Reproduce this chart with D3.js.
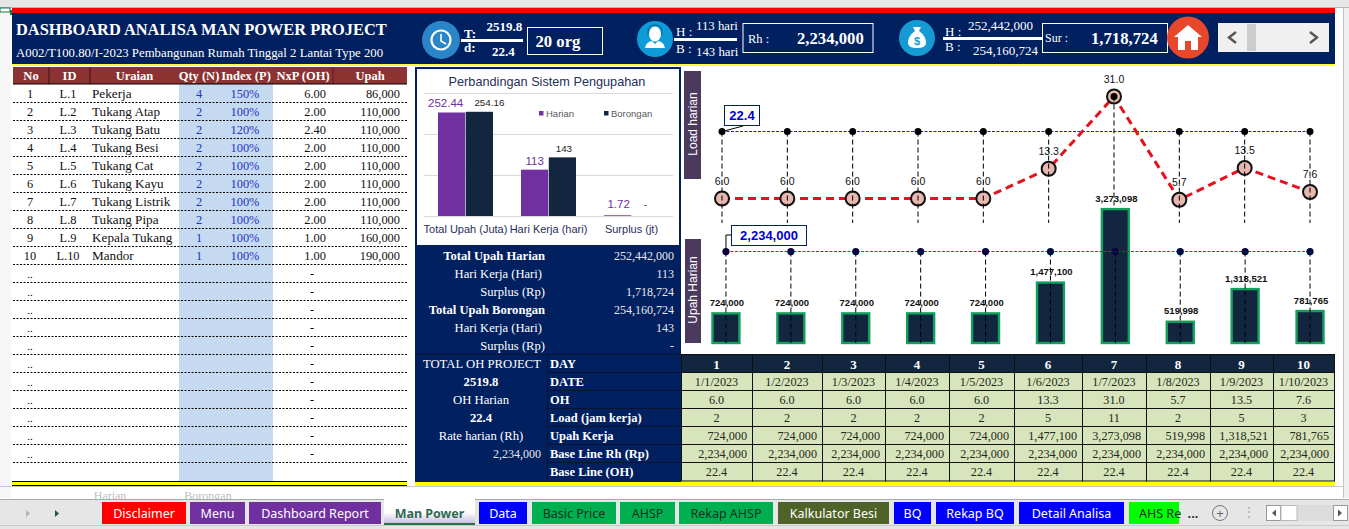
<!DOCTYPE html>
<html>
<head>
<meta charset="utf-8">
<script src="https://cdn.jsdelivr.net/npm/d3@7"></script>
<style>
  html, body { margin: 0; padding: 0; background: #fff; overflow: hidden; }
  svg { display: block; }
</style>
</head>
<body>
<svg id="sheet" width="1349" height="529"></svg>
<script>
const width = 1349, height = 529;

// left table
const tableHead = ["No", "ID", "Uraian", "Qty (N)", "Index (P)", "NxP (OH)", "Upah"];
const workers = ["Pekerja", "Tukang Atap", "Tukang Batu", "Tukang Besi", "Tukang Cat", "Tukang Kayu", "Tukang Listrik", "Tukang Pipa", "Kepala Tukang", "Mandor"];
const workerQty = [4, 2, 2, 2, 2, 2, 2, 2, 1, 1];
const workerIndex = ["150%", "100%", "120%", "100%", "100%", "100%", "100%", "100%", "100%", "100%"];
const workerOH = ["6.00", "2.00", "2.40", "2.00", "2.00", "2.00", "2.00", "2.00", "1.00", "1.00"];
const workerPay = ["86,000", "110,000", "110,000", "110,000", "110,000", "110,000", "110,000", "110,000", "160,000", "190,000"];

// comparison chart
const compareCats = ["Total Upah (Juta)", "Hari Kerja (hari)", "Surplus (jt)"];
const compareSeries = ["Harian", "Borongan"];
const harianValues = [252.44, 113, 1.72];
const boronganValues = [254.16, 143, 0];
const harianLabels = ["252.44", "113", "1.72"];
const boronganLabels = ["254.16", "143", "-"];

// daily data
const days = [1, 2, 3, 4, 5, 6, 7, 8, 9, 10];
const dates = ["1/1/2023", "1/2/2023", "1/3/2023", "1/4/2023", "1/5/2023", "1/6/2023", "1/7/2023", "1/8/2023", "1/9/2023", "1/10/2023"];
const ohValues = [6.0, 6.0, 6.0, 6.0, 6.0, 13.3, 31.0, 5.7, 13.5, 7.6];
const loadValues = [2, 2, 2, 2, 2, 5, 11, 2, 5, 3];
const upahValues = [724000, 724000, 724000, 724000, 724000, 1477100, 3273098, 519998, 1318521, 781765];
const baseRh = 2234000;
const baseOH = 22.4;

// summary panels
const summaryLabels = ["Total Upah Harian", "Hari Kerja (Hari)", "Surplus (Rp)", "Total Upah Borongan", "Hari Kerja (Hari)", "Surplus (Rp)"];
const summaryValues = ["252,442,000", "113", "1,718,724", "254,160,724", "143", "-"];
const totalLabels = ["TOTAL OH PROJECT", "2519.8", "OH Harian", "22.4", "Rate harian (Rh)", "2,234,000"];
const rowLabels = ["DAY", "DATE", "OH", "Load (jam kerja)", "Upah Kerja", "Base Line Rh (Rp)", "Base Line (OH)"];

// sheet tabs
const tabNames = ["Disclaimer", "Menu", "Dashboard Report", "Man Power", "Data", "Basic Price", "AHSP", "Rekap AHSP", "Kalkulator Besi", "BQ", "Rekap BQ", "Detail Analisa", "AHS Re"];
const tabEdges = [[102, 186], [190, 245], [249, 381], [384, 475], [479, 527], [532, 616], [620, 675], [679, 773], [778, 889], [894, 931], [936, 1014], [1019, 1124], [1129, 1179]];
const tabFill = ["#ff0000", "#7030a0", "#7030a0", "#ffffff", "#0000ff", "#00b050", "#00b050", "#00b050", "#4f6228", "#0000ff", "#0000ff", "#0000ff", "#00ff00"];
const tabInk = ["#fff", "#fff", "#fff", "#2f6b4f", "#fff", "#12301f", "#12301f", "#12301f", "#fff", "#fff", "#fff", "#fff", "#12301f"];

const SERIF = "'Liberation Serif', serif";
const SANS = "'Liberation Sans', Arial, sans-serif";
const NAVY = "#002060", DARK = "#12263f";

const svg = d3.select("#sheet");

function txt(g, x, y, s, o) {
  o = o || {};
  return g.append("text")
    .attr("x", x).attr("y", y)
    .attr("dominant-baseline", "central")
    .attr("text-anchor", o.anchor || "start")
    .attr("font-family", o.font || SERIF)
    .attr("font-size", o.size || 12)
    .attr("font-weight", o.bold ? "bold" : "normal")
    .attr("fill", o.fill || "#000")
    .text(s);
}
function rect(g, x, y, w, h, fill, stroke, sw) {
  return g.append("rect").attr("x", x).attr("y", y).attr("width", w).attr("height", h)
    .attr("fill", fill).attr("stroke", stroke || "none").attr("stroke-width", sw || 0);
}
function line(g, x1, y1, x2, y2, stroke, sw, dash) {
  return g.append("line").attr("x1", x1).attr("y1", y1).attr("x2", x2).attr("y2", y2)
    .attr("stroke", stroke).attr("stroke-width", sw || 1).attr("stroke-dasharray", dash || null);
}

// ---- sheet background
rect(svg, 0, 0, width, height, "#fff");
rect(svg, 0, 0, width, 8, "#e6e6e6");
line(svg, 0, 7.5, width, 7.5, "#b4b4b4", 1);
rect(svg, 0, 8, 11, 490, "#f6f6f6");
rect(svg, 1343, 8, 6, 490, "#f0f0f0");
line(svg, 1343.5, 8, 1343.5, 498, "#c4c4c4", 1);
rect(svg, 0, 8, 10, 4, "#fff", "#1d7044", 1);
rect(svg, 10, 10, 5, 5, "#1d7044");

// ---- banner
const banner = svg.append("g");
rect(banner, 12, 8, 1323, 5, "#ff0000");
rect(banner, 12, 13, 1323, 51, NAVY);
rect(banner, 12, 64, 1323, 2, "#ffff33");
txt(banner, 16, 29, "DASHBOARD ANALISA MAN POWER PROJECT", { size: 16.4, bold: true, fill: "#fff" });
txt(banner, 16, 52.5, "A002/T100.80/I-2023 Pembangunan Rumah Tinggal 2 Lantai Type 200", { size: 12.8, fill: "#fff" });

// clock block
banner.append("circle").attr("cx", 441).attr("cy", 40).attr("r", 19).attr("fill", "#2a85c9");
banner.append("circle").attr("cx", 441).attr("cy", 40).attr("r", 9.5).attr("fill", "none").attr("stroke", "#fff").attr("stroke-width", 2.2);
banner.append("path").attr("d", "M441 34V41L446 44").attr("fill", "none").attr("stroke", "#fff").attr("stroke-width", 1.6);
txt(banner, 464, 33, "T:", { size: 13, bold: true, fill: "#fff" });
txt(banner, 464, 47.5, "d:", { size: 13, bold: true, fill: "#fff" });
txt(banner, 486.5, 26.5, "2519.8", { size: 13, bold: true, fill: "#fff" });
txt(banner, 492, 51.5, "22.4", { size: 13, bold: true, fill: "#fff" });
line(banner, 461, 40.5, 523, 40.5, "#fff", 3);
rect(banner, 527.5, 27.5, 75, 27, "none", "#fff", 1);
txt(banner, 535.5, 41.5, "20 org", { size: 16.7, bold: true, fill: "#fff" });

// person block
banner.append("circle").attr("cx", 655).attr("cy", 39).attr("r", 18).attr("fill", "#0f9ad8");
banner.append("ellipse").attr("cx", 655).attr("cy", 34).attr("rx", 6).attr("ry", 7.5).attr("fill", "#fff");
banner.append("path").attr("d", "M645 48Q646 42 652 41L655 44L658 41Q664 42 665 48Z").attr("fill", "#fff");
banner.append("path").attr("d", "M648 35V32Q648 25 655 25Q662 25 662 32V35").attr("fill", "none").attr("stroke", "#0b5f8c").attr("stroke-width", 1);
txt(banner, 676, 31, "H :", { size: 13, fill: "#fff" });
txt(banner, 676, 48, "B :", { size: 13, fill: "#fff" });
txt(banner, 696, 26, "113 hari", { size: 12.8, fill: "#fff" });
txt(banner, 696, 51.5, "143 hari", { size: 12.8, fill: "#fff" });
line(banner, 674, 39.5, 737, 39.5, "#fff", 3);
rect(banner, 743, 23.5, 130, 29, "none", "#fff", 1);
txt(banner, 748, 38.5, "Rh :", { size: 12.5, fill: "#fff" });
txt(banner, 797, 38.5, "2,234,000", { size: 16.7, bold: true, fill: "#fff" });

// money bag block
banner.append("circle").attr("cx", 917).attr("cy", 38).attr("r", 18).attr("fill", "#159ad4");
banner.append("path").attr("d", "M913 27H921L919 31Q926 36 926 43Q926 48 917 48Q908 48 908 43Q908 36 915 31Z").attr("fill", "#fff");
txt(banner, 917, 41, "$", { size: 11, bold: true, fill: "#159ad4", anchor: "middle", font: SANS });
txt(banner, 945, 31, "H :", { size: 13, fill: "#fff" });
txt(banner, 945, 46, "B :", { size: 13, fill: "#fff" });
txt(banner, 968, 25.5, "252,442,000", { size: 13, fill: "#fff" });
txt(banner, 973, 50.5, "254,160,724", { size: 13, fill: "#fff" });
line(banner, 943, 38.5, 1042, 38.5, "#fff", 3);
rect(banner, 1042.5, 23.5, 125, 29, "none", "#fff", 1);
txt(banner, 1045, 38, "Sur :", { size: 12, fill: "#fff" });
txt(banner, 1091, 38.5, "1,718,724", { size: 16.7, bold: true, fill: "#fff" });

// home button
banner.append("circle").attr("cx", 1188).attr("cy", 37.5).attr("r", 21).attr("fill", "#e8472c");
banner.append("path").attr("d", "M1188 25L1202 37H1198V50H1191V41H1185V50H1178V37H1174Z").attr("fill", "#fff");

// scroll widget
rect(banner, 1218, 23, 111, 29, "#f0f0f0");
rect(banner, 1247, 24, 9, 27, "#cdcdcd");
banner.append("path").attr("d", "M1236 32L1229 37.5L1236 43").attr("fill", "none").attr("stroke", "#555").attr("stroke-width", 2.4);
banner.append("path").attr("d", "M1310 32L1317 37.5L1310 43").attr("fill", "none").attr("stroke", "#555").attr("stroke-width", 2.4);

// ---- left table
const headEdges = [13, 49, 90, 179, 219, 273, 333, 407];
const rowY = d3.scaleLinear().domain([0, 1]).range([84, 102]);
const leftTable = svg.append("g");
rect(leftTable, 179, 84, 94, 397, "#c5d9f1");
rect(leftTable, 13, 67, 394, 17, "#8c3331");
leftTable.selectAll(".head").data(tableHead).enter().append("text")
  .attr("class", "head")
  .attr("x", (d, i) => (headEdges[i] + headEdges[i + 1]) / 2)
  .attr("y", 76)
  .attr("dominant-baseline", "central").attr("text-anchor", "middle")
  .attr("font-family", SERIF).attr("font-size", 12.5).attr("font-weight", "bold").attr("fill", "#fff")
  .text(d => d);
[49, 90].forEach(x => line(leftTable, x, 67, x, 84, "#3a1513", 1));
[333].forEach(x => line(leftTable, x, 67, x, 84, "#5e1f1d", 1));
line(leftTable, 13, 84, 407, 84, "#000", 1);

d3.range(1, 22).forEach(i => line(leftTable, 13, rowY(i) + 0.5, 407, rowY(i) + 0.5, "#000", 1, "2,1.5"));

function column(values, x, anchor, ink, size) {
  leftTable.append("g").selectAll("text").data(values).enter().append("text")
    .attr("x", x)
    .attr("y", (d, i) => rowY(i) + 9.5)
    .attr("dominant-baseline", "central").attr("text-anchor", anchor)
    .attr("font-family", SERIF).attr("font-size", size || 12.4)
    .attr("fill", ink || "#111")
    .text(d => d);
}
column(workers.map((d, i) => i + 1), 30, "middle");
column(workers.map((d, i) => "L." + (i + 1)), 68, "middle");
column(workers, 92, "start", "#111", 13.2);
column(workerQty, 199, "middle", "#1f33c4");
column(workerIndex, 245, "middle", "#1f33c4");
column(workerOH, 326, "end");
column(workerPay, 400, "end");

// unused rows
d3.range(10, 21).forEach(i => {
  txt(leftTable, 30, rowY(i) + 10, "..", { size: 11, anchor: "middle" });
  txt(leftTable, 312, rowY(i) + 9.5, "-", { size: 12, anchor: "middle" });
});

// ---- comparison chart
const cmp = svg.append("g");
rect(cmp, 416, 68, 264, 178, "#fff", NAVY, 2);
txt(cmp, 547, 81.5, "Perbandingan Sistem Pengupahan", { size: 12.7, font: SANS, fill: "#1f2f5a", anchor: "middle" });

const cmpY = d3.scaleLinear().domain([0, 300]).range([216, 93]);
const cmpX = d3.scaleBand().domain(compareCats).range([424, 673]);
const cmpInner = d3.scaleBand().domain(compareSeries).range([14, 69]).paddingInner(0.02);
const cmpColor = d3.scaleOrdinal().domain(compareSeries).range(["#7030a0", DARK]);
const cmpInk = d3.scaleOrdinal().domain(compareSeries).range(["#7030a0", "#222"]);
// first pair of labels sits apart so the two do not collide
const cmpShift = [[-6, 0, 1], [10, 1.5, 0]];

cmp.append("g").selectAll("line").data(cmpY.ticks(3)).enter().append("line")
  .attr("x1", 424).attr("x2", 673)
  .attr("y1", d => Math.floor(cmpY(d)) + 0.5).attr("y2", d => Math.floor(cmpY(d)) + 0.5)
  .attr("stroke", "#d9d9d9");

const cmpRows = [harianValues, boronganValues];
const cmpTexts = [harianLabels, boronganLabels];
compareSeries.forEach((name, s) => {
  const g = cmp.append("g");
  g.selectAll("rect").data(cmpRows[s]).enter().append("rect")
    .attr("x", (d, i) => cmpX(compareCats[i]) + cmpInner(name))
    .attr("y", d => cmpY(d))
    .attr("width", cmpInner.bandwidth())
    .attr("height", d => cmpY(0) - cmpY(d))
    .attr("fill", cmpColor(name));
  g.selectAll("text").data(cmpRows[s]).enter().append("text")
    .attr("x", (d, i) => cmpX(compareCats[i]) + cmpInner(name) + cmpInner.bandwidth() / 2 + cmpShift[s][i])
    .attr("y", (d, i) => i === 2 ? cmpY(0) - 12 : cmpY(d) - 9)
    .attr("text-anchor", "middle").attr("dominant-baseline", "central")
    .attr("font-family", SANS)
    .attr("font-size", s ? 9.8 : 11.5)
    .attr("fill", cmpInk(name))
    .text((d, i) => cmpTexts[s][i]);
});
line(cmp, 424, 216.5, 673, 216.5, "#d9d9d9", 1);
cmp.append("g").selectAll("text").data(compareCats).enter().append("text")
  .attr("x", d => cmpX(d) + cmpX.bandwidth() / 2)
  .attr("y", 229)
  .attr("text-anchor", "middle").attr("dominant-baseline", "central")
  .attr("font-family", SANS).attr("font-size", 11).attr("fill", "#1f2f5a")
  .text(d => d);
// legend
const legendAt = d3.scaleOrdinal().domain(compareSeries).range([539, 604]);
compareSeries.forEach(name => {
  rect(cmp, legendAt(name), 111, 4.5, 4.5, cmpColor(name));
  txt(cmp, legendAt(name) + 7, 113, name, { size: 9.5, font: SANS, fill: "#595959" });
});

// ---- navy panels
const panel = svg.append("g");
rect(panel, 415, 247, 266, 107, NAVY);
rect(panel, 415, 354, 266, 128, NAVY);
summaryLabels.forEach((s, i) => {
  const boldRow = i === 0 || i === 3;
  const right = i === 1 || i === 4 ? 542 : 545;
  txt(panel, right, 256 + i * 18, s, { size: 12.6, anchor: "end", bold: boldRow, fill: "#fff" });
  txt(panel, 674, 256 + i * 18, summaryValues[i], { size: 12, anchor: "end", fill: "#e8e8e8" });
});
line(panel, 415, 354.5, 681, 354.5, "#0a1430", 1);
totalLabels.forEach((s, i) => {
  if (i === 5) txt(panel, 541, 454, s, { size: 12, anchor: "end", fill: "#e8e8e8" });
  else txt(panel, i === 0 ? 482 : 481, 364 + i * 18, s, { size: 12.7, anchor: "middle", bold: i % 2 === 1, fill: "#fff" });
});
line(panel, 547.5, 354, 547.5, 482, "#0a1430", 1);
rowLabels.forEach((s, i) => {
  txt(panel, 550, 364 + i * 18, s, { size: 12.5, bold: true, fill: "#fff" });
  if (i) line(panel, 547, 354.5 + i * 18, 681, 354.5 + i * 18, "#0a1430", 1);
});

// ---- day table
const colEdges = [681, 752, 822, 885, 949, 1014, 1082, 1146, 1210, 1273, 1334];
const dayTable = svg.append("g");
const tableRows = [
  days,
  dates,
  ohValues.map(d => d.toFixed(1)),
  loadValues,
  upahValues.map(d3.format(",")),
  days.map(() => d3.format(",")(baseRh)),
  days.map(() => baseOH.toFixed(1))
];
tableRows.forEach((vals, r) => {
  const y = 355 + r * 18;
  dayTable.append("g").selectAll("rect").data(vals).enter().append("rect")
    .attr("x", (d, i) => colEdges[i] + 0.5)
    .attr("y", y - 0.5)
    .attr("width", (d, i) => colEdges[i + 1] - colEdges[i])
    .attr("height", r === 6 ? 18.5 : 18)
    .attr("fill", r === 0 ? DARK : "#d8e4bc")
    .attr("stroke", "#111").attr("stroke-width", 1);
  const rightAlign = r === 4 || r === 5;
  dayTable.append("g").selectAll("text").data(vals).enter().append("text")
    .attr("x", (d, i) => rightAlign ? colEdges[i + 1] - 5 : (colEdges[i] + colEdges[i + 1]) / 2)
    .attr("y", y + 9)
    .attr("text-anchor", rightAlign ? "end" : "middle")
    .attr("dominant-baseline", "central")
    .attr("font-family", SERIF).attr("font-size", r === 0 ? 13 : 12.2)
    .attr("font-weight", r === 0 ? "bold" : "normal")
    .attr("fill", r === 0 ? "#fff" : "#1f2a1a")
    .text(d => d);
});

// ---- load chart
const loadG = svg.append("g");
const x = d3.scalePoint().domain(days).range([722, 1310]);
const yLoad = d3.scaleLinear().domain([0, 31]).range([223, 96.5]);

rect(loadG, 684, 71, 17, 108, "#4b3a5e");
loadG.append("text").attr("transform", "translate(692.5,124) rotate(-90)")
  .attr("text-anchor", "middle").attr("dominant-baseline", "central")
  .attr("font-family", SANS).attr("font-size", 12).attr("fill", "#fff").text("Load harian");

loadG.append("line").attr("x1", x(1)).attr("x2", x(10))
  .attr("y1", 131.5).attr("y2", 131.5)
  .attr("stroke", "#22229c").attr("stroke-width", 1).attr("stroke-dasharray", "3,1.5");

const ohLine = d3.line().x((d, i) => x(days[i])).y(d => yLoad(d));
loadG.append("path").attr("d", ohLine(ohValues))
  .attr("fill", "none").attr("stroke", "#e6101e").attr("stroke-width", 3).attr("stroke-dasharray", "8,5");

loadG.append("g").selectAll("circle").data(ohValues).enter().append("circle")
  .attr("cx", (d, i) => x(days[i])).attr("cy", d => yLoad(d)).attr("r", 7)
  .attr("fill", "#e6b8b0").attr("stroke", "#111").attr("stroke-width", 2);

loadG.append("g").selectAll("line").data(ohValues).enter().append("line")
  .attr("x1", (d, i) => x(days[i])).attr("x2", (d, i) => x(days[i]))
  .attr("y1", d => yLoad(Math.max(d, baseOH))).attr("y2", yLoad(0))
  .attr("stroke", "#000").attr("stroke-width", 1).attr("stroke-dasharray", "5,3");

loadG.append("g").selectAll("circle").data(ohValues).enter().append("circle")
  .attr("cx", (d, i) => x(days[i])).attr("cy", d => yLoad(Math.max(d, baseOH))).attr("r", 3.5)
  .attr("fill", "#000");

loadG.append("g").selectAll("text").data(ohValues).enter().append("text")
  .attr("x", (d, i) => x(days[i])).attr("y", d => yLoad(d) - 18)
  .attr("text-anchor", "middle").attr("dominant-baseline", "central")
  .attr("font-family", SANS).attr("font-size", 10.5).attr("fill", "#111")
  .text(d => d.toFixed(1));

// callout for the OH base line
line(loadG, x(1), yLoad(baseOH), 743, 126, "#000", 1);
rect(loadG, 724.5, 105.5, 35, 20, "#fff", NAVY, 1);
txt(loadG, 742, 115.5, baseOH.toFixed(1), { size: 13, bold: true, font: SANS, fill: "#0000cc", anchor: "middle" });

// ---- upah chart
const upahG = svg.append("g");
const xBar = d3.scaleBand().domain(days).range([712.5, 1323.5]).paddingInner(0.585);
const barMid = d => xBar(d) + xBar.bandwidth() / 2;
const yUpah = d3.scaleLinear().domain([0, 3300000]).range([343, 208]);

rect(upahG, 685, 239, 16, 104, "#4b3a5e");
upahG.append("text").attr("transform", "translate(693,290) rotate(-90)")
  .attr("text-anchor", "middle").attr("dominant-baseline", "central")
  .attr("font-family", SANS).attr("font-size", 12).attr("fill", "#fff").text("Upah Harian");

upahG.append("g").selectAll("rect").data(upahValues).enter().append("rect")
  .attr("x", (d, i) => xBar(days[i]))
  .attr("y", d => yUpah(d))
  .attr("width", xBar.bandwidth())
  .attr("height", d => yUpah(0) - yUpah(d))
  .attr("fill", DARK).attr("stroke", "#12a05c").attr("stroke-width", 2.4);

upahG.append("line").attr("x1", barMid(1)).attr("x2", barMid(10))
  .attr("y1", 251.5).attr("y2", 251.5)
  .attr("stroke", "#d01020").attr("stroke-width", 1).attr("stroke-dasharray", "3,1.5");

upahG.append("g").selectAll("line").data(days).enter().append("line")
  .attr("x1", barMid).attr("x2", barMid)
  .attr("y1", yUpah(baseRh)).attr("y2", yUpah(0))
  .attr("stroke", "#000").attr("stroke-width", 1).attr("stroke-dasharray", "5,3");

upahG.append("g").selectAll("circle").data(days).enter().append("circle")
  .attr("cx", barMid).attr("cy", yUpah(baseRh)).attr("r", 3.6)
  .attr("fill", "#0a0040");

upahG.append("g").selectAll("text").data(upahValues).enter().append("text")
  .attr("x", (d, i) => barMid(days[i]) + 1).attr("y", d => yUpah(d) - 11)
  .attr("text-anchor", "middle").attr("dominant-baseline", "central")
  .attr("font-family", SANS).attr("font-size", 9.5).attr("font-weight", "bold").attr("fill", "#111")
  .text(d3.format(","));

// callout for the Rh base line
upahG.append("path").attr("d", "M" + barMid(1) + " " + yUpah(baseRh) + "V235H731")
  .attr("fill", "none").attr("stroke", "#000");
rect(upahG, 731.5, 225.5, 75, 20, "#fff", NAVY, 1);
txt(upahG, 769, 235.5, d3.format(",")(baseRh), { size: 13, bold: true, font: SANS, fill: "#0000cc", anchor: "middle" });

// ---- bottom of the sheet
const foot = svg.append("g");
rect(foot, 415, 482, 920, 4, "#ffff00");
line(foot, 12, 481.5, 407, 481.5, "#000", 1);
rect(foot, 12, 482, 395, 3, "#ffff00");
line(foot, 12, 485.5, 407, 485.5, "#000", 1);
line(foot, 0, 486.5, 1343, 486.5, "#c8c8c8", 1);
txt(foot, 110, 495.5, "Harian", { size: 12, fill: "#bdbdbd", anchor: "middle" });
txt(foot, 208, 495.5, "Borongan", { size: 12, fill: "#bdbdbd", anchor: "middle" });

rect(foot, 0, 499, width, 30, "#e6e6e6");
line(foot, 0, 499.5, 384, 499.5, "#a8a8a8", 1);
line(foot, 475, 499.5, width, 499.5, "#a8a8a8", 1);
line(foot, 0, 525.5, width, 525.5, "#c9c9c9", 1);
foot.append("path").attr("d", "M26 510L30 513.5L26 517Z").attr("fill", "#b5b5b5");
foot.append("path").attr("d", "M55 510L59 513.5L55 517Z").attr("fill", "#1d5c3c");

const defs = svg.append("defs");
const grad = defs.append("linearGradient").attr("id", "activeTab").attr("x1", 0).attr("x2", 0).attr("y1", 0).attr("y2", 1);
grad.append("stop").attr("offset", "55%").attr("stop-color", "#fff");
grad.append("stop").attr("offset", "100%").attr("stop-color", "#cdbfe0");

foot.append("g").selectAll("rect").data(tabNames).enter().append("rect")
  .attr("x", (d, i) => tabEdges[i][0])
  .attr("y", (d, i) => i === 3 ? 499 : 502)
  .attr("width", (d, i) => tabEdges[i][1] - tabEdges[i][0])
  .attr("height", (d, i) => i === 3 ? 24 : 22)
  .attr("fill", (d, i) => i === 3 ? "url(#activeTab)" : tabFill[i]);
line(foot, 384, 524, 475, 524, "#217346", 2);
foot.append("g").selectAll("text").data(tabNames).enter().append("text")
  .attr("x", (d, i) => d === "AHS Re" ? tabEdges[i][0] + 10 : (tabEdges[i][0] + tabEdges[i][1]) / 2)
  .attr("y", 513)
  .attr("text-anchor", d => d === "AHS Re" ? "start" : "middle")
  .attr("dominant-baseline", "central")
  .attr("font-family", "'Noto Sans', sans-serif")
  .attr("font-size", 12.5)
  .attr("font-weight", d => d === "Man Power" ? "bold" : "normal")
  .attr("fill", (d, i) => tabInk[i])
  .text(d => d);
txt(foot, 1193, 513, "...", { size: 13, bold: true, font: SANS, fill: "#333", anchor: "middle" });
foot.append("circle").attr("cx", 1220).attr("cy", 513).attr("r", 7.5).attr("fill", "none").attr("stroke", "#777");
txt(foot, 1220, 513, "+", { size: 13, font: SANS, fill: "#666", anchor: "middle" });
txt(foot, 1249, 512, "⋮", { size: 12, font: SANS, fill: "#aaa", anchor: "middle" });
rect(foot, 1266, 505, 74, 16, "#dcdcdc");
rect(foot, 1266.5, 505.5, 14, 15, "#fff", "#999", 1);
rect(foot, 1281, 505.5, 16, 15, "#fff", "#bbb", 1);
rect(foot, 1333.5, 505.5, 14, 15, "#fff", "#999", 1);
foot.append("path").attr("d", "M1276 509.5L1272 513L1276 516.5Z").attr("fill", "#555");
foot.append("path").attr("d", "M1338 509.5L1342 513L1338 516.5Z").attr("fill", "#555");
</script>
</body>
</html>
